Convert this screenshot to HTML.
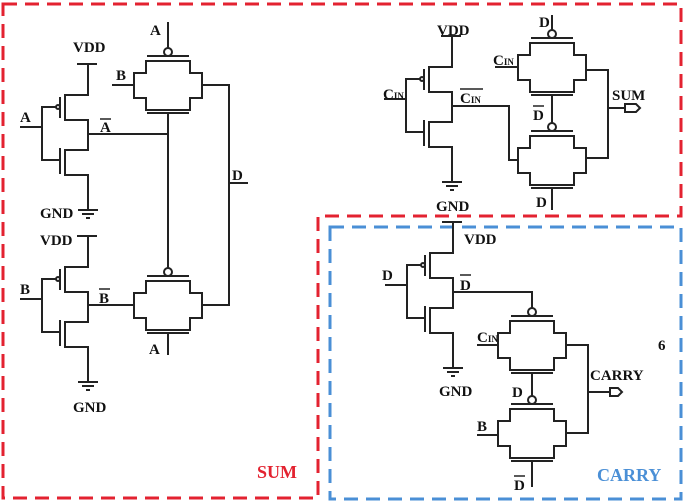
<!DOCTYPE html>
<html><head><meta charset="utf-8"><style>
html,body{margin:0;padding:0;background:#fff;width:685px;height:504px;overflow:hidden}
text{font-family:"Liberation Serif",serif;font-weight:bold;font-size:15px;fill:#111}
</style></head><body>
<svg width="685" height="504" viewBox="0 0 685 504" xmlns="http://www.w3.org/2000/svg">
<defs>
<g id="tg" fill="none" stroke="#222" stroke-width="2">
<path d="M-22,-24 H22 V-12 H34 V13 H22 V25 H-22 V13 H-34 V-12 H-22 Z"/>
<line x1="-21" y1="-29" x2="21" y2="-29"/>
<line x1="-21" y1="28" x2="21" y2="28"/>
<circle cx="0" cy="-33" r="4"/>
</g>
<g id="inv" fill="none" stroke="#222" stroke-width="2">
<line x1="-11" y1="-70" x2="9" y2="-70"/>
<polyline points="0,-70 0,-39 -23,-39"/>
<line x1="-23" y1="-40" x2="-23" y2="-13"/>
<polyline points="-23,-14 0,-14 0,16 -23,16"/>
<line x1="-23" y1="15" x2="-23" y2="42"/>
<polyline points="-23,41 0,41 0,76"/>
<line x1="-10" y1="76" x2="10" y2="76"/>
<line x1="-6" y1="80" x2="6" y2="80"/>
<line x1="-2" y1="84" x2="2" y2="84"/>
<line x1="-28" y1="-37" x2="-28" y2="-16"/>
<circle cx="-30" cy="-27" r="2"/>
<polyline points="-32,-27 -46,-27 -46,26 -28,26"/>
<line x1="-28" y1="14" x2="-28" y2="40"/>
<line x1="-68" y1="-7" x2="-46" y2="-7"/>
</g>
</defs>

<path d="M3,4 H681 V216 H318 V498 H3 Z" fill="none" stroke="#e32230" stroke-width="3" stroke-dasharray="14,8"/>
<rect x="330" y="227" width="351" height="272" fill="none" stroke="#4a8fd6" stroke-width="3" stroke-dasharray="14,8"/>

<g fill="none" stroke="#222" stroke-width="2">
<use href="#inv" x="88" y="134"/>
<use href="#inv" x="88" y="306"/>
<use href="#tg" x="168" y="85"/>
<use href="#tg" x="168" y="305"/>
<line x1="168" y1="22" x2="168" y2="48"/>
<line x1="168" y1="113" x2="168" y2="268"/>
<line x1="168" y1="333" x2="168" y2="355"/>
<line x1="88" y1="134" x2="168" y2="134"/>
<line x1="88" y1="305" x2="134" y2="305"/>
<line x1="112" y1="85" x2="134" y2="85"/>
<polyline points="202,85 229,85 229,305 202,305"/>
<line x1="229" y1="183" x2="248" y2="183"/>
<use href="#inv" x="452" y="106"/>
<use href="#tg" x="552" y="67"/>
<use href="#tg" x="552" y="160"/>
<line x1="552" y1="15" x2="552" y2="30"/>
<line x1="552" y1="95" x2="552" y2="123"/>
<line x1="552" y1="188" x2="552" y2="210"/>
<polyline points="452,106 509,106 509,160 518,160"/>
<line x1="495" y1="67" x2="518" y2="67"/>
<polyline points="586,70 608,70 608,158 586,158"/>
<line x1="608" y1="108" x2="625" y2="108"/>
<path d="M625,104 H636 L640,108 L636,112 H625 Z"/>
<use href="#inv" x="453" y="292"/>
<use href="#tg" x="532" y="345"/>
<use href="#tg" x="532" y="433"/>
<polyline points="453,292 532,292 532,308"/>
<line x1="532" y1="373" x2="532" y2="396"/>
<line x1="532" y1="461" x2="532" y2="487"/>
<line x1="477" y1="345" x2="498" y2="345"/>
<line x1="477" y1="435" x2="498" y2="435"/>
<polyline points="566,345 588,345 588,433 566,433"/>
<line x1="588" y1="392" x2="610" y2="392"/>
<path d="M610,388 H618 L622,392 L618,396 H610 Z"/>
</g>

<text x="150" y="35">A</text>
<text x="73" y="52">VDD</text>
<text x="116" y="80">B</text>
<text x="20" y="122">A</text>
<text x="100" y="132">A</text><line x1="100" y1="119" x2="111" y2="119" stroke="#222" stroke-width="1.5"/>
<text x="232" y="180">D</text>
<text x="40" y="218">GND</text>
<text x="40" y="245">VDD</text>
<text x="20" y="294">B</text>
<text x="99" y="303">B</text><line x1="99" y1="289" x2="110" y2="289" stroke="#222" stroke-width="1.5"/>
<text x="149" y="354">A</text>
<text x="73" y="412">GND</text>
<text x="257" y="478" style="fill:#e32230;font-size:18px">SUM</text>

<text x="437" y="35">VDD</text>
<text x="539" y="27">D</text>
<text x="493" y="65">C<tspan style="font-size:9px">IN</tspan></text>
<text x="383" y="99">C<tspan style="font-size:9px">IN</tspan></text>
<text x="460" y="103">C<tspan style="font-size:9px">IN</tspan></text><line x1="460" y1="89" x2="483" y2="89" stroke="#222" stroke-width="1.5"/>
<text x="612" y="100">SUM</text>
<text x="533" y="120">D</text><line x1="533" y1="106" x2="544" y2="106" stroke="#222" stroke-width="1.5"/>
<text x="436" y="211">GND</text>
<text x="536" y="207">D</text>

<text x="464" y="244">VDD</text>
<text x="382" y="280">D</text>
<text x="460" y="290">D</text><line x1="460" y1="275" x2="471" y2="275" stroke="#222" stroke-width="1.5"/>
<text x="477" y="342">C<tspan style="font-size:9px">IN</tspan></text>
<text x="658" y="350">6</text>
<text x="590" y="380">CARRY</text>
<text x="439" y="396">GND</text>
<text x="512" y="397">D</text>
<text x="477" y="431">B</text>
<text x="514" y="490">D</text><line x1="514" y1="476" x2="525" y2="476" stroke="#222" stroke-width="1.5"/>
<text x="597" y="481" style="fill:#4a8fd6;font-size:18px">CARRY</text>
</svg>
</body></html>
